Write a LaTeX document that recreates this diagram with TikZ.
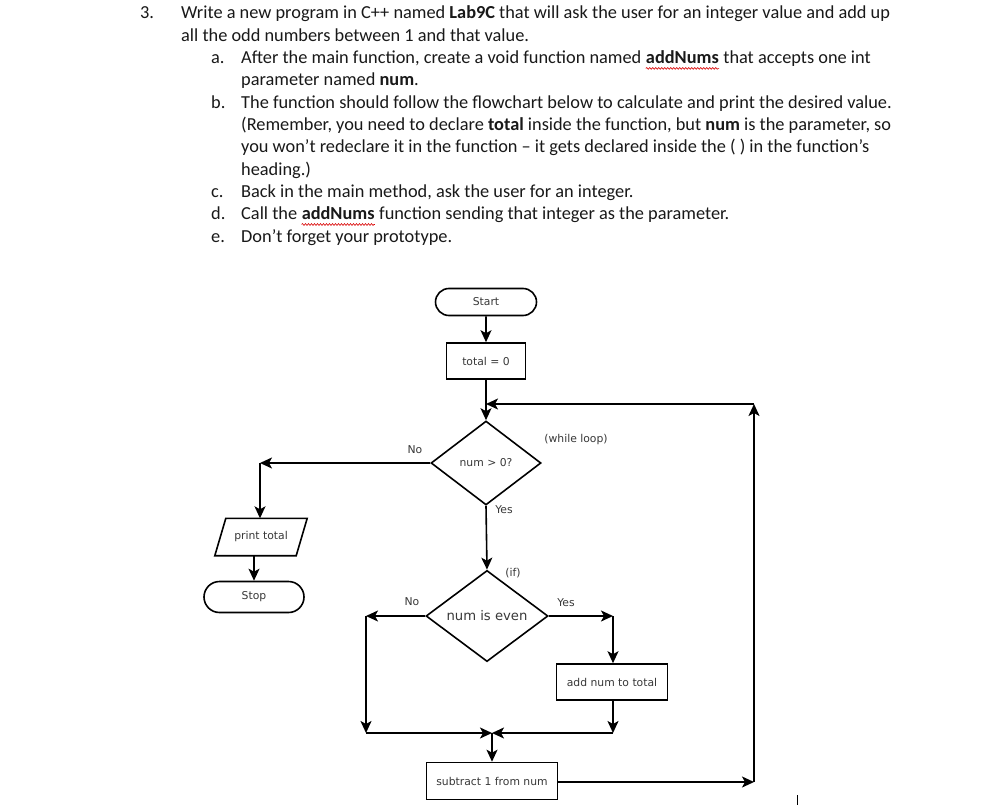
\documentclass[tikz,border=0pt]{standalone}
\usepackage{fontspec}
\setmainfont{Carlito}
\newfontfamily\fcfont{DejaVu Sans}
\usetikzlibrary{shapes.misc,shapes.geometric,arrows.meta,decorations.pathmorphing}
\begin{document}
\begin{tikzpicture}[x=1pt,y=-1pt,
  body/.style={anchor=base west, inner sep=0pt, font=\fontsize{18.33}{22}\selectfont, text=black!90},
  fctext/.style={font=\fcfont\fontsize{10.8}{12}\selectfont, text=black!78},
  term/.style={rounded rectangle, draw, line width=1.6pt, fctext, inner sep=0pt},
  proc/.style={rectangle, draw, line width=1.6pt, fctext, inner sep=0pt},
  dec/.style={diamond, draw, line width=1.6pt, fctext, inner sep=0pt},
  flow/.style={line width=1.6pt, -{Stealth[length=12pt,width=11pt,inset=3pt]}},
  lab/.style={fctext, inner sep=0pt},
  squig/.style={red!85!black, line width=0.6pt, decorate, decoration={snake, segment length=3pt, amplitude=0.9pt}}
]
\useasboundingbox[fill=white] (0,0) rectangle (990,805);

% ---------- text ----------
\node[body] (n3) at (140,19) {3.};
\node[body] (t0) at (181,19) {Write a new program in C++ named \textbf{Lab9C} that will ask the user for an integer value and add up};
\node[body] (t1) at (181,41.3) {all the odd numbers between 1 and that value.};
\node[body] (na) at (211,63.6) {a.};
\node[body] (t2) at (241,63.6) {After the main function, create a void function named};
\node[body] (t2b) at ([xshift=4.15pt]t2.base east) {\textbf{addNums}};
\node[body] (t2c) at ([xshift=4.15pt]t2b.base east) {that accepts one int};
\node[body] (t3) at (241,85.9) {parameter named \textbf{num}.};
\node[body] (nb) at (211,108.2) {b.};
\node[body] (t4) at (241,108.2) {The function should follow the flowchart below to calculate and print the desired value.};
\node[body] (t5) at (241,130.5) {(Remember, you need to declare \textbf{total} inside the function, but \textbf{num} is the parameter, so};
\node[body] (t6) at (241,152.8) {you won’t redeclare it in the function – it gets declared inside the ( ) in the function’s};
\node[body] (t7) at (241,175.1) {heading.)};
\node[body] (nc) at (211,197.4) {c.};
\node[body] (t8) at (241,197.4) {Back in the main method, ask the user for an integer.};
\node[body] (nd) at (211,219.7) {d.};
\node[body] (t9) at (241,219.7) {Call the};
\node[body] (t9b) at ([xshift=4.15pt]t9.base east) {\textbf{addNums}};
\node[body] (t9c) at ([xshift=4.15pt]t9b.base east) {function sending that integer as the parameter.};
\node[body] (ne) at (211,242) {e.};
\node[body] (t10) at (241,242) {Don’t forget your prototype.};

\draw[squig] ([yshift=-4.8pt]t2b.base west) -- ([yshift=-4.8pt]t2b.base east);
\draw[squig] ([yshift=-4.8pt]t9b.base west) -- ([yshift=-4.8pt]t9b.base east);

% ---------- flowchart ----------
\node[term, minimum width=101pt, minimum height=27pt] (start) at (486,302) {Start};
\node[proc, minimum width=79pt, minimum height=36pt] (total) at (486,361) {total = 0};
\node[dec, minimum width=110pt, minimum height=84pt] (d1) at (486,463) {num > 0?};
\node[inner sep=0pt, minimum width=81pt, minimum height=37pt, fctext] (print) at (261,537) {print total};
\draw[line width=1.6pt] ([xshift=5.5pt]print.north west) -- ([xshift=5.5pt]print.north east)
  -- ([xshift=-5.5pt]print.south east) -- ([xshift=-5.5pt]print.south west) -- cycle;
\node[term, minimum width=100pt, minimum height=31pt] (stop) at (254,597) {Stop};
\node[dec, minimum width=122pt, minimum height=88pt, font=\fcfont\fontsize{13.2}{15}\selectfont] (d2) at (487,616) {num is even};
\node[proc, minimum width=111pt, minimum height=36pt] (add) at (612,682) {add num to total};
\node[proc, minimum width=131pt, minimum height=37pt] (sub) at (492,781) {subtract 1 from num};

\coordinate (c1) at (260,463);
\coordinate (c2) at (366,616);
\coordinate (c3) at (366,733);
\coordinate (j) at (492,733);
\coordinate (c4) at (613,616);
\coordinate (c5) at (613,733);
\coordinate (c6) at (754,782);
\coordinate (c7) at (754,404);
\coordinate (m) at (486,404);

\draw[flow] (start) -- (total);
\draw[flow] (total) -- (d1);
\draw[flow] (d1.west) -- (c1);
\draw[flow] (c1) -- (c1 |- print.north);
\draw[flow] (stop.north |- print.south) -- (stop.north);
\draw[flow] (d1.south) -- (d2.north);
\draw[flow] (d2.west) -- (c2);
\draw[flow] (c2) -- (c3);
\draw[flow] (c3) -- (j);
\draw[flow] (d2.east) -- (c4);
\draw[flow] (c4) -- (add.north -| c4);
\draw[flow] (add.south -| c5) -- (c5);
\draw[flow] (c5) -- (j);
\draw[flow] (j) -- (sub.north);
\draw[flow] (sub.east |- c6) -- (c6);
\draw[flow] (c6) -- (c7);
\draw[flow] (c7) -- (m);

\node[lab] (no1) at (415,450) {No};
\node[lab] (wl) at (576,440) {(while loop)};
\node[lab] (yes1) at (504,510) {Yes};
\node[lab] (if) at (513,573) {(if)};
\node[lab] (no2) at (412,602) {No};
\node[lab] (yes2) at (566,603) {Yes};

\draw[line width=0.8pt] (797,795) -- (797,805);
\end{tikzpicture}
\end{document}
